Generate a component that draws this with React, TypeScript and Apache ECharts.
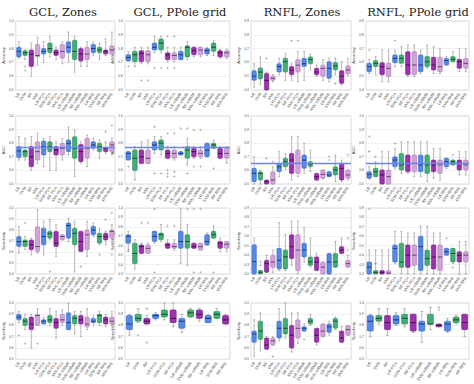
import React, { useEffect, useRef } from "react";
import * as echarts from "echarts";

// ---------- categories ----------
const CATS16 = ["LR", "SVM", "RF", "kNN", "LR PCA", "SVM PCA", "RF PCA", "kNN PCA", "LR mRMR", "SVM mRMR", "RF mRMR", "kNN mRMR", "LR RFE", "SVM RFE", "RF RFE", "kNN RFE"];
const CLS16 = [0, 1, 2, 3, 0, 1, 2, 3, 0, 1, 2, 3, 0, 1, 2, 3];
const CATS12 = ["LR", "SVM", "RF", "LR PCA", "SVM PCA", "RF PCA", "LR mRMR", "SVM mRMR", "RF mRMR", "LR RFE", "SVM RFE", "RF RFE"];
const CLS12 = [0, 1, 2, 0, 1, 2, 0, 1, 2, 0, 1, 2];

const TITLES = ["GCL, Zones", "GCL, PPole grid", "RNFL, Zones", "RNFL, PPole grid"];
const ROW_NAMES = ["Accuracy", "AUC", "Sensitivity", "Specificity"];
const REF_AUC = [0.767, 0.767, 0.652, 0.652];

// y ranges [min, max, interval] per row/col
const Y_RANGES = [
  [[0.5, 1.0, 0.1], [0.5, 1.0, 0.1], [0.4, 0.9, 0.1], [0.4, 0.9, 0.1]],
  [[0.5, 1.0, 0.1], [0.5, 1.0, 0.1], [0.5, 1.0, 0.1], [0.5, 1.0, 0.1]],
  [[0.4, 1.0, 0.1], [0.3, 1.0, 0.1], [0.2, 0.9, 0.1], [0.2, 0.9, 0.1]],
  [[0.5, 1.0, 0.1], [0.5, 1.0, 0.1], [0.5, 1.0, 0.1], [0.5, 1.0, 0.1]],
];

// ---------- box stats [min, q1, median, q3, max] ----------
const ACC_GCL_ZONES = [
  [0.73, 0.74, 0.78, 0.81, 0.85], [0.72, 0.75, 0.77, 0.785, 0.79], [0.60, 0.67, 0.76, 0.79, 0.84], [0.68, 0.74, 0.75, 0.83, 0.88],
  [0.70, 0.76, 0.78, 0.80, 0.85], [0.74, 0.77, 0.80, 0.84, 0.89], [0.72, 0.75, 0.77, 0.79, 0.81], [0.69, 0.73, 0.78, 0.83, 0.85],
  [0.70, 0.77, 0.81, 0.85, 0.92], [0.63, 0.72, 0.78, 0.86, 0.89], [0.67, 0.71, 0.76, 0.80, 0.81], [0.67, 0.72, 0.76, 0.81, 0.85],
  [0.75, 0.77, 0.80, 0.83, 0.85], [0.72, 0.77, 0.79, 0.81, 0.84], [0.75, 0.76, 0.78, 0.79, 0.85], [0.72, 0.76, 0.79, 0.82, 0.92],
];
const ACC_GCL_ZONES_OUT = [[1, 0.67], [1, 0.64], [14, 0.87]];

const ACC_GCL_PPOLE = [
  [0.71, 0.71, 0.735, 0.755, 0.78], [0.67, 0.705, 0.755, 0.78, 0.81], [0.69, 0.705, 0.765, 0.785, 0.81], [0.69, 0.705, 0.755, 0.785, 0.81],
  [0.77, 0.79, 0.81, 0.84, 0.89], [0.77, 0.79, 0.84, 0.87, 0.89], [0.705, 0.72, 0.755, 0.77, 0.81], [0.705, 0.72, 0.75, 0.77, 0.81],
  [0.72, 0.72, 0.755, 0.78, 0.81], [0.72, 0.74, 0.81, 0.82, 0.85], [0.74, 0.755, 0.785, 0.81, 0.81], [0.74, 0.755, 0.79, 0.81, 0.81],
  [0.75, 0.76, 0.785, 0.80, 0.81], [0.75, 0.78, 0.81, 0.84, 0.86], [0.73, 0.74, 0.77, 0.785, 0.795], [0.73, 0.74, 0.77, 0.785, 0.795],
];
const ACC_GCL_PPOLE_OUT = [[0, 0.67], [2, 0.57], [3, 0.57], [4, 0.66], [5, 0.66], [6, 0.89], [6, 0.66], [7, 0.89], [7, 0.66]];

const ACC_RNFL_ZONES = [
  [0.42, 0.47, 0.50, 0.54, 0.59], [0.44, 0.48, 0.53, 0.56, 0.64], [0.40, 0.40, 0.47, 0.52, 0.53], [0.46, 0.47, 0.485, 0.50, 0.51],
  [0.51, 0.53, 0.57, 0.59, 0.63], [0.47, 0.53, 0.605, 0.63, 0.665], [0.47, 0.51, 0.545, 0.57, 0.59], [0.46, 0.53, 0.58, 0.62, 0.68],
  [0.47, 0.57, 0.59, 0.63, 0.68], [0.545, 0.59, 0.62, 0.64, 0.66], [0.50, 0.51, 0.53, 0.557, 0.58], [0.47, 0.50, 0.557, 0.58, 0.62],
  [0.46, 0.485, 0.557, 0.605, 0.63], [0.51, 0.545, 0.574, 0.60, 0.63], [0.436, 0.448, 0.50, 0.54, 0.605], [0.50, 0.516, 0.545, 0.574, 0.63],
];
const ACC_RNFL_ZONES_OUT = [[2, 0.63], [6, 0.757], [7, 0.757], [13, 0.448]];

const ACC_RNFL_PPOLE = [
  [0.52, 0.533, 0.569, 0.593, 0.62], [0.51, 0.569, 0.593, 0.613, 0.642], [0.46, 0.51, 0.569, 0.598, 0.69], [0.46, 0.497, 0.557, 0.593, 0.69],
  [0.569, 0.598, 0.629, 0.654, 0.69], [0.569, 0.593, 0.629, 0.654, 0.714], [0.497, 0.51, 0.581, 0.678, 0.726], [0.497, 0.51, 0.581, 0.678, 0.726],
  [0.52, 0.533, 0.581, 0.654, 0.69], [0.557, 0.569, 0.605, 0.642, 0.726], [0.52, 0.545, 0.581, 0.637, 0.714], [0.52, 0.533, 0.569, 0.637, 0.702],
  [0.581, 0.581, 0.613, 0.629, 0.642], [0.605, 0.605, 0.622, 0.642, 0.678], [0.533, 0.557, 0.605, 0.622, 0.702], [0.533, 0.557, 0.593, 0.629, 0.702],
];
const ACC_RNFL_PPOLE_OUT = [[0, 0.69], [4, 0.757]];

const AUC_GCL_ZONES = [
  [0.676, 0.694, 0.743, 0.775, 0.848], [0.676, 0.70, 0.738, 0.75, 0.836], [0.60, 0.627, 0.70, 0.775, 0.848], [0.652, 0.676, 0.738, 0.811, 0.873],
  [0.627, 0.713, 0.775, 0.816, 0.836], [0.60, 0.738, 0.775, 0.811, 0.848], [0.60, 0.713, 0.75, 0.775, 0.811], [0.676, 0.713, 0.762, 0.80, 0.836],
  [0.713, 0.738, 0.80, 0.824, 0.92], [0.554, 0.689, 0.762, 0.848, 0.897], [0.652, 0.664, 0.738, 0.79, 0.811], [0.627, 0.689, 0.762, 0.836, 0.86],
  [0.75, 0.762, 0.787, 0.811, 0.836], [0.689, 0.738, 0.775, 0.80, 0.824], [0.725, 0.738, 0.762, 0.768, 0.811], [0.713, 0.738, 0.787, 0.811, 0.836],
];
const AUC_GCL_ZONES_OUT = [[14, 0.885], [15, 0.93]];

const AUC_GCL_PPOLE = [
  [0.676, 0.676, 0.725, 0.738, 0.738], [0.53, 0.60, 0.689, 0.75, 0.775], [0.65, 0.65, 0.70, 0.75, 0.811], [0.65, 0.65, 0.689, 0.75, 0.824],
  [0.725, 0.75, 0.787, 0.811, 0.848], [0.713, 0.75, 0.80, 0.824, 0.848], [0.689, 0.689, 0.725, 0.75, 0.775], [0.676, 0.689, 0.725, 0.75, 0.775],
  [0.713, 0.713, 0.725, 0.738, 0.738], [0.64, 0.689, 0.75, 0.775, 0.836], [0.689, 0.70, 0.738, 0.762, 0.775], [0.689, 0.70, 0.725, 0.75, 0.775],
  [0.70, 0.70, 0.75, 0.80, 0.80], [0.762, 0.762, 0.787, 0.80, 0.824], [0.689, 0.689, 0.725, 0.762, 0.775], [0.652, 0.689, 0.725, 0.762, 0.775],
];
const AUC_GCL_PPOLE_OUT = [[0, 0.627], [4, 0.92], [4, 0.578], [5, 0.578], [6, 0.873], [6, 0.603], [6, 0.578], [6, 0.554], [7, 0.873], [7, 0.59], [7, 0.554], [8, 0.91], [9, 0.91], [9, 0.578], [10, 0.897], [10, 0.627], [11, 0.897], [11, 0.627], [13, 0.615]];

const AUC_RNFL_ZONES = [
  [0.50, 0.517, 0.578, 0.615, 0.70], [0.50, 0.529, 0.578, 0.59, 0.603], [0.50, 0.50, 0.517, 0.529, 0.529], [0.50, 0.50, 0.529, 0.59, 0.627],
  [0.554, 0.59, 0.627, 0.652, 0.738], [0.603, 0.627, 0.664, 0.689, 0.725], [0.529, 0.578, 0.676, 0.725, 0.848], [0.554, 0.578, 0.652, 0.75, 0.848],
  [0.578, 0.615, 0.676, 0.713, 0.80], [0.59, 0.627, 0.645, 0.664, 0.75], [0.522, 0.529, 0.554, 0.578, 0.578], [0.537, 0.542, 0.571, 0.603, 0.603],
  [0.554, 0.554, 0.566, 0.59, 0.59], [0.517, 0.566, 0.603, 0.627, 0.713], [0.517, 0.529, 0.615, 0.652, 0.676], [0.529, 0.542, 0.566, 0.603, 0.603],
];
const AUC_RNFL_ZONES_OUT = [[2, 0.689], [3, 0.664], [12, 0.70], [12, 0.676], [15, 0.713]];

const AUC_RNFL_PPOLE = [
  [0.537, 0.542, 0.571, 0.59, 0.627], [0.554, 0.554, 0.59, 0.615, 0.664], [0.50, 0.50, 0.566, 0.603, 0.738], [0.50, 0.50, 0.554, 0.603, 0.738],
  [0.615, 0.627, 0.676, 0.70, 0.762], [0.578, 0.603, 0.64, 0.725, 0.811], [0.578, 0.59, 0.652, 0.713, 0.811], [0.554, 0.59, 0.652, 0.713, 0.811],
  [0.554, 0.59, 0.64, 0.713, 0.811], [0.517, 0.578, 0.64, 0.713, 0.811], [0.542, 0.59, 0.64, 0.676, 0.762], [0.529, 0.578, 0.64, 0.676, 0.762],
  [0.615, 0.627, 0.664, 0.689, 0.689], [0.64, 0.64, 0.664, 0.676, 0.676], [0.566, 0.603, 0.652, 0.676, 0.738], [0.566, 0.603, 0.64, 0.676, 0.738],
];
const AUC_RNFL_PPOLE_OUT = [[0, 0.848], [0, 0.738], [1, 0.70], [4, 0.80], [13, 0.713]];

const SEN_GCL_ZONES = [
  [0.59, 0.65, 0.695, 0.74, 0.83], [0.62, 0.65, 0.695, 0.71, 0.74], [0.574, 0.62, 0.665, 0.71, 0.726], [0.59, 0.604, 0.65, 0.83, 0.985],
  [0.574, 0.665, 0.74, 0.817, 0.878], [0.71, 0.726, 0.77, 0.787, 0.878], [0.56, 0.65, 0.68, 0.787, 0.848], [0.71, 0.71, 0.74, 0.756, 0.756],
  [0.695, 0.726, 0.84, 0.863, 0.908], [0.42, 0.665, 0.77, 0.817, 0.878], [0.604, 0.604, 0.695, 0.787, 0.787], [0.56, 0.62, 0.756, 0.80, 0.878],
  [0.74, 0.756, 0.80, 0.833, 0.863], [0.665, 0.68, 0.74, 0.77, 0.817], [0.665, 0.71, 0.74, 0.77, 0.787], [0.665, 0.726, 0.787, 0.80, 0.848],
];
const SEN_GCL_ZONES_OUT = [[1, 0.863], [5, 0.893], [5, 0.42], [10, 0.467], [13, 0.574], [14, 0.893], [15, 0.955], [15, 0.574]];

const SEN_GCL_PPOLE = [
  [0.536, 0.626, 0.70, 0.717, 0.753], [0.354, 0.41, 0.518, 0.626, 0.663], [0.518, 0.518, 0.59, 0.608, 0.626], [0.518, 0.518, 0.572, 0.608, 0.626],
  [0.626, 0.645, 0.70, 0.753, 0.753], [0.645, 0.663, 0.717, 0.735, 0.826], [0.572, 0.572, 0.608, 0.626, 0.663], [0.554, 0.572, 0.59, 0.626, 0.663],
  [0.41, 0.572, 0.645, 0.753, 0.99], [0.39, 0.572, 0.645, 0.717, 0.826], [0.572, 0.572, 0.59, 0.626, 0.626], [0.554, 0.554, 0.59, 0.626, 0.626],
  [0.608, 0.608, 0.645, 0.717, 0.735], [0.68, 0.68, 0.717, 0.753, 0.81], [0.536, 0.572, 0.626, 0.645, 0.68], [0.536, 0.572, 0.616, 0.645, 0.645],
];
const SEN_GCL_PPOLE_OUT = [[0, 0.554], [2, 0.84], [3, 0.84], [4, 0.99], [4, 0.318], [6, 0.81], [7, 0.81], [9, 0.99], [10, 0.99], [10, 0.318], [11, 0.99], [11, 0.318], [13, 0.318]];

const SEN_RNFL_ZONES = [
  [0.20, 0.20, 0.33, 0.51, 0.58], [0.20, 0.20, 0.218, 0.236, 0.236], [0.218, 0.218, 0.31, 0.345, 0.40], [0.218, 0.27, 0.327, 0.40, 0.454],
  [0.236, 0.254, 0.345, 0.472, 0.744], [0.236, 0.254, 0.382, 0.454, 0.617], [0.29, 0.363, 0.49, 0.617, 0.762], [0.20, 0.236, 0.454, 0.617, 0.762],
  [0.327, 0.38, 0.454, 0.526, 0.69], [0.272, 0.29, 0.327, 0.38, 0.58], [0.236, 0.236, 0.327, 0.38, 0.418], [0.20, 0.20, 0.272, 0.327, 0.327],
  [0.20, 0.20, 0.327, 0.418, 0.418], [0.272, 0.272, 0.327, 0.418, 0.545], [0.418, 0.418, 0.454, 0.49, 0.58], [0.272, 0.272, 0.31, 0.345, 0.40],
];
const SEN_RNFL_ZONES_OUT = [[1, 0.29], [1, 0.327], [15, 0.58], [15, 0.454]];

const SEN_RNFL_PPOLE = [
  [0.20, 0.20, 0.272, 0.327, 0.454], [0.20, 0.20, 0.218, 0.236, 0.454], [0.20, 0.20, 0.218, 0.236, 0.454], [0.20, 0.20, 0.21, 0.236, 0.454],
  [0.31, 0.327, 0.472, 0.508, 0.653], [0.20, 0.27, 0.327, 0.526, 0.653], [0.20, 0.27, 0.40, 0.508, 0.635], [0.20, 0.29, 0.40, 0.508, 0.635],
  [0.20, 0.236, 0.49, 0.60, 0.708], [0.20, 0.29, 0.363, 0.454, 0.708], [0.20, 0.254, 0.38, 0.508, 0.635], [0.20, 0.236, 0.38, 0.508, 0.635],
  [0.40, 0.40, 0.436, 0.472, 0.472], [0.31, 0.327, 0.418, 0.472, 0.472], [0.20, 0.327, 0.40, 0.436, 0.545], [0.20, 0.327, 0.40, 0.436, 0.545],
];
const SEN_RNFL_PPOLE_OUT = [[0, 0.89], [1, 0.31], [12, 0.58], [13, 0.272]];

const SPE_GCL_ZONES = [
  [0.825, 0.85, 0.875, 0.90, 0.925], [0.763, 0.80, 0.838, 0.863, 0.90], [0.60, 0.763, 0.813, 0.875, 0.90], [0.80, 0.80, 0.888, 0.90, 0.95],
  [0.813, 0.813, 0.838, 0.85, 0.875], [0.80, 0.825, 0.85, 0.888, 0.95], [0.688, 0.775, 0.825, 0.863, 0.925], [0.80, 0.825, 0.85, 0.90, 0.938],
  [0.763, 0.763, 0.825, 0.913, 1.0], [0.725, 0.813, 0.863, 0.888, 0.925], [0.70, 0.813, 0.85, 0.888, 0.925], [0.763, 0.788, 0.813, 0.875, 0.95],
  [0.80, 0.825, 0.838, 0.863, 0.888], [0.80, 0.825, 0.888, 0.90, 0.925], [0.788, 0.813, 0.85, 0.875, 0.90], [0.788, 0.813, 0.838, 0.875, 0.925],
];
const SPE_GCL_ZONES_OUT = [[0, 0.713], [1, 0.638], [3, 0.638]];

const SPE_GCL_PPOLE = [
  [0.713, 0.763, 0.813, 0.888, 0.90], [0.825, 0.838, 0.863, 0.90, 0.95], [0.813, 0.813, 0.838, 0.863, 0.888], [0.85, 0.863, 0.888, 0.90, 0.913],
  [0.85, 0.875, 0.90, 0.938, 1.0], [0.788, 0.825, 0.863, 0.938, 1.0], [0.738, 0.775, 0.838, 0.863, 0.90], [0.875, 0.875, 0.913, 0.938, 0.95],
  [0.838, 0.863, 0.90, 0.938, 0.95], [0.825, 0.825, 0.863, 0.888, 0.90], [0.863, 0.863, 0.90, 0.925, 0.95], [0.813, 0.813, 0.85, 0.888, 0.90],
];
const SPE_GCL_PPOLE_OUT = [[1, 0.713], [2, 0.95], [2, 0.65]];

const SPE_RNFL_ZONES = [
  [0.525, 0.65, 0.725, 0.75, 0.85], [0.575, 0.675, 0.75, 0.838, 0.913], [0.588, 0.588, 0.625, 0.688, 0.70], [0.625, 0.625, 0.663, 0.688, 0.70],
  [0.663, 0.688, 0.775, 0.838, 0.95], [0.688, 0.725, 0.775, 0.863, 1.0], [0.563, 0.60, 0.713, 0.80, 0.913], [0.638, 0.688, 0.775, 0.85, 0.913],
  [0.75, 0.75, 0.775, 0.788, 0.813], [0.80, 0.813, 0.838, 0.863, 0.90], [0.625, 0.65, 0.713, 0.775, 0.775], [0.70, 0.70, 0.75, 0.813, 0.813],
  [0.713, 0.738, 0.788, 0.813, 0.838], [0.763, 0.775, 0.838, 0.863, 0.875], [0.65, 0.65, 0.688, 0.75, 0.788], [0.713, 0.713, 0.763, 0.80, 0.80],
];
const SPE_RNFL_ZONES_OUT = [[3, 0.525], [8, 0.675]];

const SPE_RNFL_PPOLE = [
  [0.70, 0.75, 0.838, 0.888, 0.90], [0.813, 0.838, 0.863, 0.888, 0.95], [0.713, 0.763, 0.825, 0.888, 0.95], [0.80, 0.813, 0.85, 0.888, 0.913],
  [0.788, 0.813, 0.863, 0.90, 0.95], [0.738, 0.75, 0.825, 0.90, 0.90], [0.65, 0.75, 0.813, 0.838, 0.925], [0.763, 0.813, 0.813, 0.90, 0.963],
  [0.788, 0.788, 0.80, 0.813, 0.813], [0.738, 0.75, 0.813, 0.838, 0.863], [0.813, 0.825, 0.85, 0.875, 0.888], [0.70, 0.763, 0.825, 0.90, 0.90],
];
const SPE_RNFL_PPOLE_OUT = [[8, 0.963], [8, 0.938]];

const PANEL_STATS = [
  [ACC_GCL_ZONES, ACC_GCL_PPOLE, ACC_RNFL_ZONES, ACC_RNFL_PPOLE],
  [AUC_GCL_ZONES, AUC_GCL_PPOLE, AUC_RNFL_ZONES, AUC_RNFL_PPOLE],
  [SEN_GCL_ZONES, SEN_GCL_PPOLE, SEN_RNFL_ZONES, SEN_RNFL_PPOLE],
  [SPE_GCL_ZONES, SPE_GCL_PPOLE, SPE_RNFL_ZONES, SPE_RNFL_PPOLE],
];
const PANEL_OUT = [
  [ACC_GCL_ZONES_OUT, ACC_GCL_PPOLE_OUT, ACC_RNFL_ZONES_OUT, ACC_RNFL_PPOLE_OUT],
  [AUC_GCL_ZONES_OUT, AUC_GCL_PPOLE_OUT, AUC_RNFL_ZONES_OUT, AUC_RNFL_PPOLE_OUT],
  [SEN_GCL_ZONES_OUT, SEN_GCL_PPOLE_OUT, SEN_RNFL_ZONES_OUT, SEN_RNFL_PPOLE_OUT],
  [SPE_GCL_ZONES_OUT, SPE_GCL_PPOLE_OUT, SPE_RNFL_ZONES_OUT, SPE_RNFL_PPOLE_OUT],
];

// ---------- styles ----------
const FILL = ["#5589e6", "#43ad76", "#9c32ad", "#d1a3d8"];
const STROKE = ["#3566c0", "#2b8a57", "#741d84", "#a87bb2"];
const MEDIAN = ["#1a3a78", "#124f2f", "#45104f", "#6d4275"];
const COL_LEFT = [11, 125, 251, 366];
const COL_WIDTH = [104, 105, 100, 103];
const ROW_TOP = [21, 116, 208, 303];
const ROW_HEIGHT = [69, 68, 66, 67];
const TITLE_X = [58, 175, 297, 413];

function renderBox(params: any, api: any) {
  const x = api.value(0);
  const lo = api.coord([x, api.value(1)]);
  const q1 = api.coord([x, api.value(2)]);
  const md = api.coord([x, api.value(3)]);
  const q3 = api.coord([x, api.value(4)]);
  const hi = api.coord([x, api.value(5)]);
  const ci = api.value(6);
  const band = api.size([1, 0])[0];
  const bw = band * 0.7;
  const cw = band * 0.32;
  const cx = lo[0];
  const wStyle = { stroke: "#9a9a9a", lineWidth: 0.7 };
  return {
    type: "group",
    children: [
      { type: "line", shape: { x1: cx, y1: lo[1], x2: cx, y2: q1[1] }, style: wStyle },
      { type: "line", shape: { x1: cx, y1: q3[1], x2: cx, y2: hi[1] }, style: wStyle },
      { type: "line", shape: { x1: cx - cw / 2, y1: lo[1], x2: cx + cw / 2, y2: lo[1] }, style: wStyle },
      { type: "line", shape: { x1: cx - cw / 2, y1: hi[1], x2: cx + cw / 2, y2: hi[1] }, style: wStyle },
      {
        type: "rect",
        shape: { x: cx - bw / 2, y: q3[1], width: bw, height: Math.max(q1[1] - q3[1], 0.8), r: 1 },
        style: { fill: FILL[ci], stroke: STROKE[ci], lineWidth: 0.6 },
      },
      { type: "line", shape: { x1: cx - bw / 2, y1: md[1], x2: cx + bw / 2, y2: md[1] }, style: { stroke: MEDIAN[ci], lineWidth: 1 } },
    ],
  };
}

export default function App() {
  const ref = useRef<HTMLDivElement>(null);
  useEffect(() => {
    if (!ref.current) return;
    const chart = echarts.init(ref.current, null, { renderer: "svg" });
    const grids: any[] = [];
    const xAxes: any[] = [];
    const yAxes: any[] = [];
    const series: any[] = [];
    let k = 0;
    for (let r = 0; r < 4; r++) {
      for (let c = 0; c < 4; c++) {
        const stats = PANEL_STATS[r][c];
        const is12 = stats.length === 12;
        const cats = is12 ? CATS12 : CATS16;
        const cls = is12 ? CLS12 : CLS16;
        const [ymin, ymax, yint] = Y_RANGES[r][c];
        grids.push({
          left: COL_LEFT[c], top: ROW_TOP[r], width: COL_WIDTH[c], height: ROW_HEIGHT[r],
          show: true, borderColor: "#d2d2d2", borderWidth: 0.8, backgroundColor: "#fff",
        });
        xAxes.push({
          type: "category", gridIndex: k, data: cats,
          axisLine: { show: false }, axisTick: { show: false },
          axisLabel: { interval: 0, rotate: 55, fontSize: 4, color: "#555", margin: 3 },
        });
        yAxes.push({
          type: "value", gridIndex: k, min: ymin, max: ymax, interval: yint,
          name: ROW_NAMES[r], nameLocation: "middle", nameGap: 8, nameRotate: 90,
          nameTextStyle: { fontSize: 4, color: "#444" },
          axisLine: { show: false }, axisTick: { show: false },
          axisLabel: { fontSize: 3.5, color: "#555", margin: 2, formatter: (v: number) => v.toFixed(1) },
          splitLine: { lineStyle: { color: "#e6e6e6", width: 0.6 } },
        });
        series.push({
          type: "custom", xAxisIndex: k, yAxisIndex: k, renderItem: renderBox,
          encode: { x: 0, y: [1, 2, 3, 4, 5] },
          data: stats.map((s, i) => [i, s[0], s[1], s[2], s[3], s[4], cls[i]]),
          z: 3,
        });
        const sc: any = {
          type: "scatter", xAxisIndex: k, yAxisIndex: k,
          symbol: "path://M4 0h2v4h4v2h-4v4h-2v-4h-4v-2h4z", symbolSize: 2.6,
          itemStyle: { color: "#808080" },
          data: PANEL_OUT[r][c], z: 4,
        };
        if (r === 1) {
          sc.markLine = {
            silent: true, symbol: ["none", "none"], label: { show: false },
            emphasis: { disabled: true },
            lineStyle: { color: "#6f86f2", width: 1.3, type: "solid", opacity: 1 },
            data: [{ yAxis: REF_AUC[c], lineStyle: { color: "#6f86f2" } }],
          };
        }
        series.push(sc);
        k++;
      }
    }
    chart.setOption({
      animation: false,
      backgroundColor: "#fff",
      title: TITLES.map((t, i) => ({
        text: t, left: TITLE_X[i], top: 1, textAlign: "center",
        textStyle: { fontFamily: "DejaVu Serif", fontSize: 11.5, fontWeight: "normal", color: "#222" },
      })),
      grid: grids, xAxis: xAxes, yAxis: yAxes, series,
    });
    return () => chart.dispose();
  }, []);
  return <div ref={ref} style={{ position: "fixed", left: 0, top: 0, width: 474, height: 384 }} />;
}
